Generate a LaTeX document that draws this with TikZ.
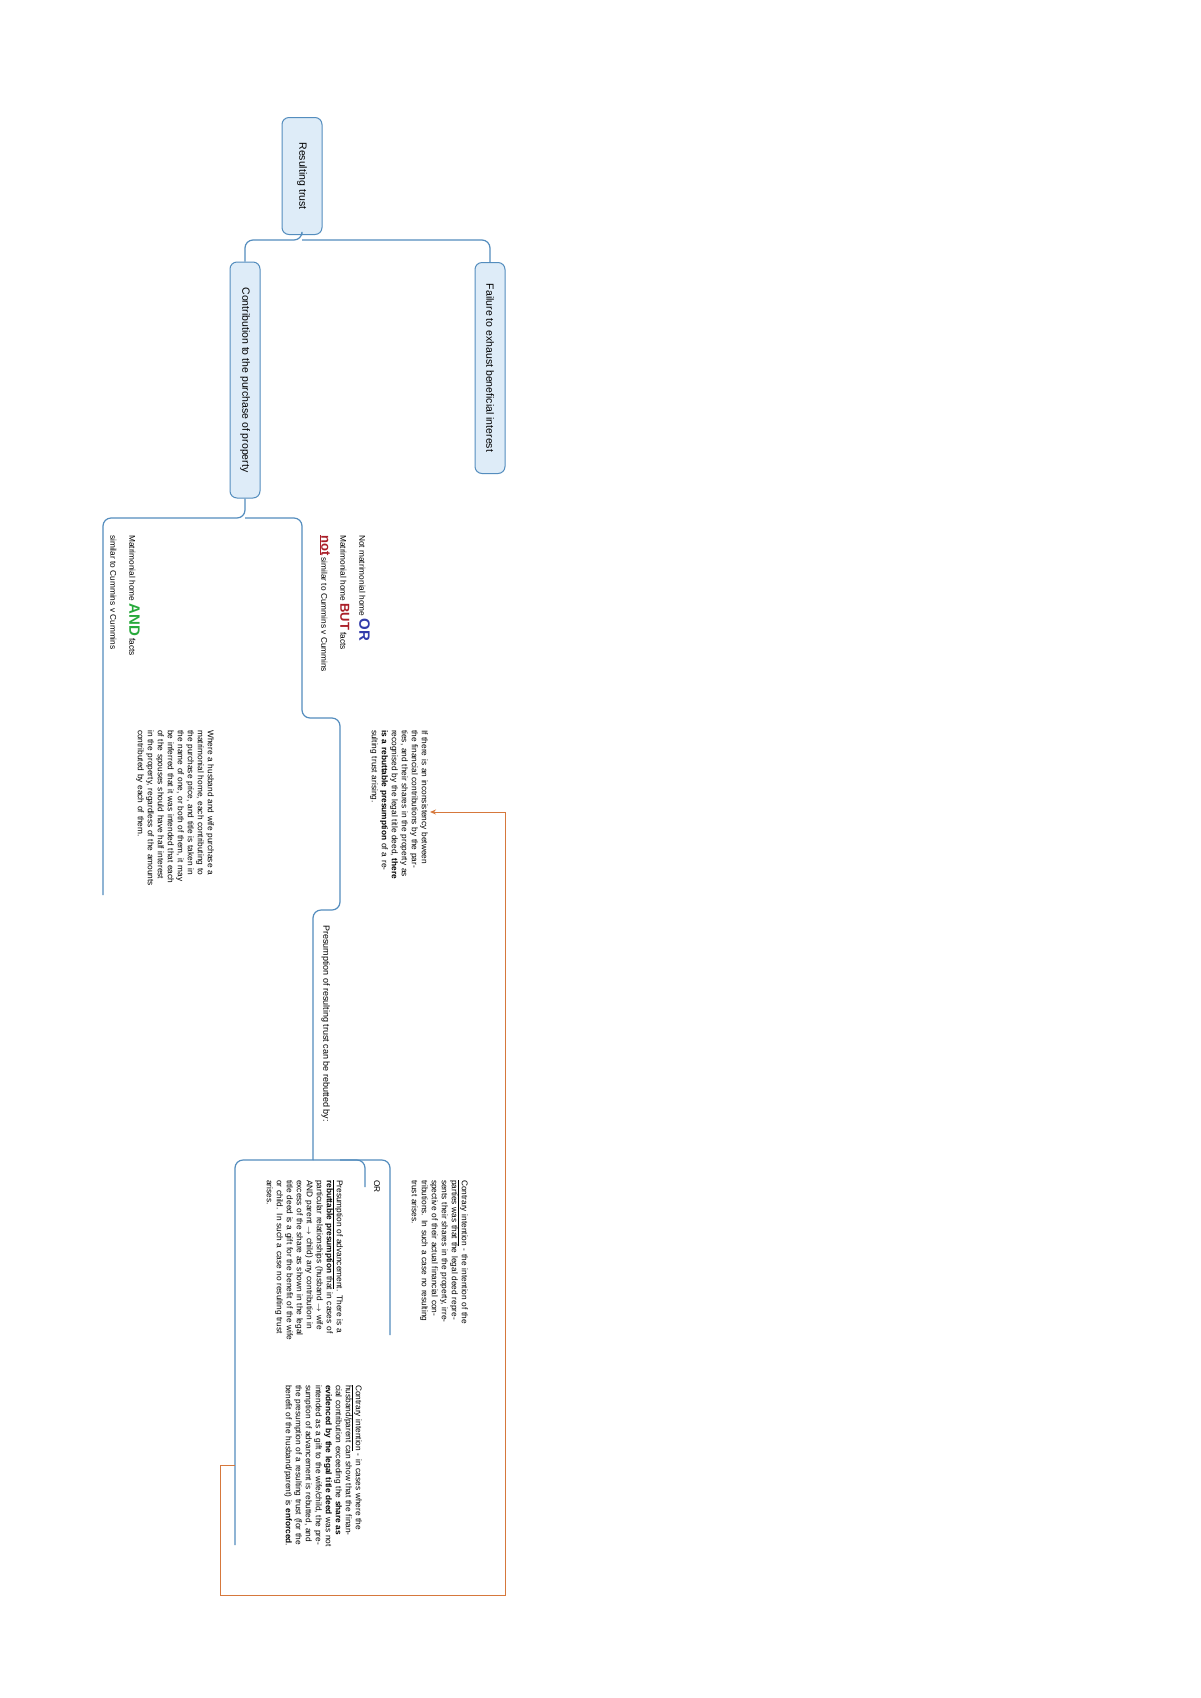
\documentclass[tikz,border=0pt]{standalone}
\usepackage{fontspec}
\setmainfont{Liberation Sans}
\usepackage{graphicx}
\usetikzlibrary{arrows.meta}
\definecolor{lineblue}{RGB}{84,141,190}
\definecolor{boxfill}{RGB}{222,236,248}
\definecolor{orangeline}{RGB}{214,120,60}
\definecolor{orblue}{RGB}{50,60,170}
\definecolor{butred}{RGB}{170,30,40}
\definecolor{andgreen}{RGB}{40,170,60}
\tikzset{
  br/.style={draw=lineblue, line width=1.2pt, rounded corners=8pt},
  topic/.style={draw=lineblue, fill=boxfill, rounded corners=7pt, line width=1pt, inner sep=0pt, font=\fontsize{10.5}{12}\selectfont},
  para/.style={rotate=-90, anchor=north west, align=left, inner sep=0pt, font=\fontsize{8.3}{10}\selectfont},
  orl/.style={draw=orangeline, line width=1pt}
}
\begin{document}
\begin{tikzpicture}[x=1pt,y=-1pt]
\path[use as bounding box, fill=white] (0,0) rectangle (1200,1698);
\node[topic, minimum width=40pt, minimum height=117pt] (rt) at (302,176) {\rotatebox{-90}{Resulting trust}};
\node[topic, minimum width=30pt, minimum height=236pt] (contrib) at (245,380) {\rotatebox{-90}{Contribution to the purchase of property}};
\node[topic, minimum width=30pt, minimum height=211pt] (fail) at (490,368) {\rotatebox{-90}{Failure to exhaust beneficial interest}};
\coordinate (j0) at (302,240);
\draw[br] (rt.south) -- (j0) -| (contrib.north);
\draw[br] (j0) -| (fail.north);
\coordinate (j1) at (245,518);
\coordinate (lend) at (103,895);
\coordinate (pend) at (313,1160);
\draw[br] (contrib.south) -- (j1) -| (lend);
\draw[br] (j1) -| (302,718) -| (340,910) -| (pend);
\draw[br] (pend) -| (235,1545);
\draw[br] (pend) -| (390,1335);
\draw[br] (340,1160) -| (365,1187);
% texts
\node[para, font=\fontsize{8.3}{19}\selectfont] (nm) at (370,535) {Not matrimonial home {\fontsize{15}{10}\selectfont\bfseries\color{orblue}OR}\\
Matrimonial home {\fontsize{13}{10}\selectfont\bfseries\color{butred}BUT} facts\\
{\fontsize{13}{10}\selectfont\bfseries\color{butred}\underline{not}} similar to Cummins v Cummins};
\node[para, font=\fontsize{8.3}{19}\selectfont] (mh) at (140,535) {Matrimonial home {\fontsize{15}{10}\selectfont\bfseries\color{andgreen}AND} facts\\
similar to Cummins v Cummins};
\node[para, text width=152pt] (incons) at (428,730) {If there is an inconsistency between the financial contributions by the parties, and their shares in the property as recognised by the legal title deed, \textbf{there is a rebuttable presumption} of a resulting trust arising.};
\node[para, text width=156pt] (where) at (214,730) {Where a husband and wife purchase a matrimonial home, each contributing to the purchase price, and title is taken in the name of one, or both of them, it may be inferred that it was intended that each of the spouses should have half interest in the property, regardless of the amounts contributed by each of them.};
\node[para, font=\fontsize{9}{11}\selectfont] (rebut) at (330,925) {Presumption of resulting trust can be rebutted by:};
\node[para, text width=152pt] (ci1) at (468,1180) {\underline{Contrary intention} - the intention of the parties was that the legal deed represents their shares in the property, irrespective of their actual financial contributions. In such a case no resulting trust arises.};
\node[para] (or2) at (380,1180) {OR};
\node[para, text width=162pt] (adv) at (343,1180) {\underline{Presumption of advancement}. There is a \textbf{rebuttable presumption} that in cases of particular relationships (husband $\rightarrow$ wife AND parent $\rightarrow$ child) any contribution in excess of the share as shown in the legal title deed is a gift for the benefit of the wife or child. In such a case no resulting trust arises.};
\node[para, text width=162pt] (ci2) at (362,1385) {\underline{Contrary intention} - in cases where the husband/parent can show that the financial contribution exceeding the \textbf{share as evidenced by the legal title deed} was not intended as a gift to the wife/child, the presumption of advancement is rebutted, and the presumption of a resulting trust (for the benefit of the husband/parent) is \textbf{enforced}.};
% orange arrow
\coordinate (o1) at (235,1465);
\coordinate (o2) at (430,812);
\draw[orl, -{Stealth[length=6pt,width=5pt]}] (o1) -- (220,1465) -- (220,1595) -- (505,1595) -- (505,812) -- (o2);
\end{tikzpicture}
\end{document}
